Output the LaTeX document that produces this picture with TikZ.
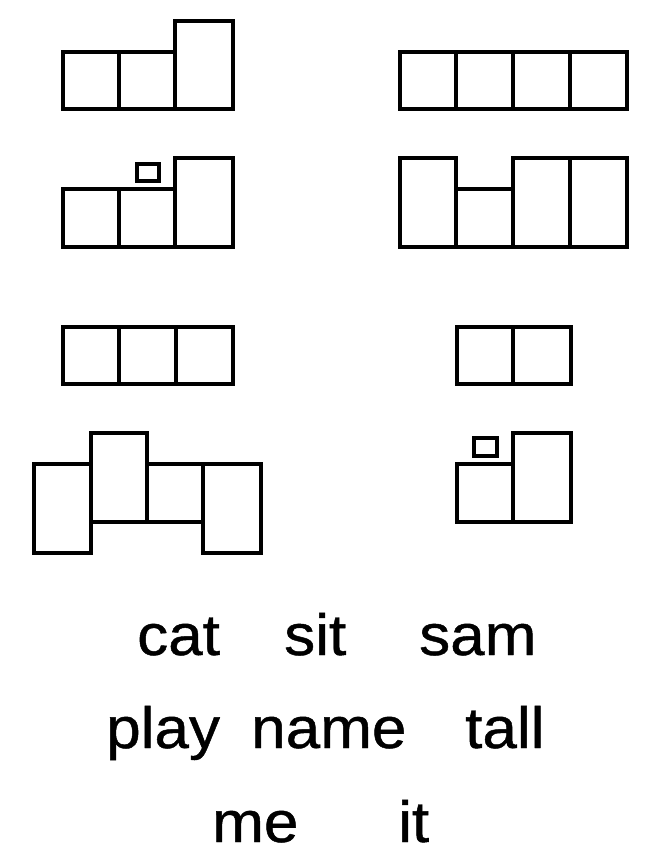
\documentclass[tikz,border=0pt]{standalone}
\usepackage{fontspec}
\setmainfont{Liberation Sans}
\newfontfamily\wordfont[FakeStretch=1.07,FakeBold=0.8]{Liberation Sans}
\begin{document}
\begin{tikzpicture}[x=1pt,y=-1pt,
  cell/.style={draw=black,line width=4.3pt},
  word/.style={anchor=base west,inner sep=0pt,font=\wordfont\fontsize{58}{60}\selectfont}]
\useasboundingbox (0,0) rectangle (646,860);
% row 1 left
\draw[cell] (63,52) rectangle (119,109);
\draw[cell] (119,52) rectangle (175,109);
\draw[cell] (175,21) rectangle (233,109);
% row 1 right
\draw[cell] (400,52) rectangle (456,109);
\draw[cell] (456,52) rectangle (513,109);
\draw[cell] (513,52) rectangle (570,109);
\draw[cell] (570,52) rectangle (627,109);
% row 2 left
\draw[cell] (63,189) rectangle (119,247);
\draw[cell] (119,189) rectangle (175,247);
\draw[cell] (175,158) rectangle (233,247);
\draw[cell] (137,164) rectangle (159,181);
% row 2 right
\draw[cell] (400,158) rectangle (456,247);
\draw[cell] (456,189) rectangle (513,247);
\draw[cell] (513,158) rectangle (570,247);
\draw[cell] (570,158) rectangle (627,247);
% row 3 left
\draw[cell] (63,327) rectangle (119,384);
\draw[cell] (119,327) rectangle (176,384);
\draw[cell] (176,327) rectangle (233,384);
% row 3 right
\draw[cell] (457,327) rectangle (513,384);
\draw[cell] (513,327) rectangle (571,384);
% row 4 left
\draw[cell] (34,464) rectangle (91,553);
\draw[cell] (91,433) rectangle (147,522);
\draw[cell] (147,464) rectangle (203,522);
\draw[cell] (203,464) rectangle (261,553);
% row 4 right
\draw[cell] (457,464) rectangle (513,522);
\draw[cell] (513,433) rectangle (571,522);
\draw[cell] (474,438) rectangle (497,456);
% words
\node[word] (cat) at (137,655) {cat};
\node[word] (sit) at (284,655) {sit};
\node[word] (sam) at (419,655) {sam};
\node[word] (play) at (106,748) {play};
\node[word] (name) at (251,748) {name};
\node[word] (tall) at (465,748) {tall};
\node[word] (me) at (212,842) {me};
\node[word] (it) at (398,842) {it};
\end{tikzpicture}
\end{document}
